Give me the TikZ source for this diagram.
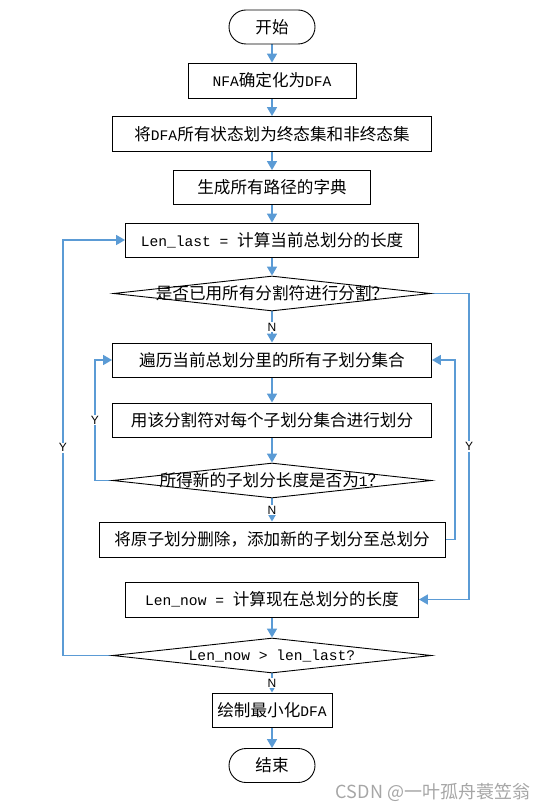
\documentclass[tikz,border=0pt]{standalone}
\usepackage{fontspec}
\usepackage{xcolor}
\usetikzlibrary{shapes,shapes.geometric}
\usetikzlibrary{arrows.meta,backgrounds}
\newfontfamily\cjk{Noto Sans CJK SC}
\newfontfamily\mono[Scale=0.88]{Liberation Mono}
\newfontfamily\yn{Liberation Sans}
\definecolor{flowblue}{RGB}{91,155,213}
\newcommand{\spill}[1]{\makebox[0pt]{#1}}
\pgfdeclarelayer{edgelayer}
\pgfdeclarelayer{nodelayer}
\pgfsetlayers{background,edgelayer,nodelayer,main}
\tikzstyle{proc}=[draw=black,line width=0.9pt,fill=white,shape=rectangle,inner sep=0pt,minimum height=34pt,font=\cjk\fontsize{16.6}{18}\selectfont]
\tikzstyle{term}=[proc,rounded corners=17pt]
\tikzstyle{cond}=[proc,shape=diamond,minimum height=35pt]
\tikzstyle{flow}=[draw=flowblue,line width=1.6pt,-{Triangle[width=10pt,length=9pt]}]
\tikzstyle{tag}=[fill=white,inner sep=1pt,font=\yn\fontsize{12}{12}\selectfont]
\tikzstyle{credit}=[inner sep=0pt,text=black!35,font=\cjk\fontsize{18}{18}\selectfont]

\begin{document}
\begin{tikzpicture}[x=1pt,y=-1pt]
	\useasboundingbox (0,0) rectangle (554,810);
	\begin{pgfonlayer}{nodelayer}
		\node [style=term,minimum width=86pt] (start) at (272,27) {开始};
		\node [style=proc,minimum width=168pt,minimum height=35pt] (nfa) at (272,80.5) {{\mono NFA}确定化为{\mono DFA}};
		\node [style=proc,minimum width=319pt,minimum height=35pt] (split) at (272,134) {将{\mono DFA}所有状态划为终态集和非终态集};
		\node [style=proc,minimum width=197pt] (dict) at (272,187.5) {生成所有路径的字典};
		\node [style=proc,minimum width=293pt] (last) at (272,240) {{\mono Len\_last = }计算当前总划分的长度};
		\node [style=cond,minimum width=317pt] (ask1) at (272,293.5) {\spill{是否已用所有分割符进行分割？}};
		\node [style=proc,minimum width=319pt] (loop) at (272,360) {遍历当前总划分里的所有子划分集合};
		\node [style=proc,minimum width=319pt] (cut) at (272,420) {用该分割符对每个子划分集合进行划分};
		\node [style=cond,minimum width=319pt] (ask2) at (272,480.5) {\spill{所得新的子划分长度是否为{\mono 1}？}};
		\node [style=proc,minimum width=346pt,minimum height=35pt] (swap) at (272,539.5) {将原子划分删除，添加新的子划分至总划分};
		\node [style=proc,minimum width=293pt,minimum height=35pt] (now) at (272,599.5) {{\mono Len\_now = }计算现在总划分的长度};
		\node [style=cond,minimum width=319pt] (ask3) at (272,655.5) {\spill{\mono Len\_now > len\_last?}};
		\node [style=proc,minimum width=120pt] (mini) at (272,710) {绘制最小化{\mono DFA}};
		\node [style=term,minimum width=86pt] (stop) at (272,765.5) {结束};
		\node [style=credit] (sign) at (433,792) {CSDN @一叶孤舟蓑笠翁};
		\coordinate (r1) at (469,293.5);
		\coordinate (l2) at (95,480.5);
		\coordinate (r2) at (455,539.5);
		\coordinate (l3) at (63,655.5);
	\end{pgfonlayer}
	\begin{pgfonlayer}{edgelayer}
		\draw [style=flow] (start) to (nfa);
		\draw [style=flow] (nfa) to (split);
		\draw [style=flow] (split) to (dict);
		\draw [style=flow] (dict) to (last);
		\draw [style=flow] (last) to (ask1);
		\draw [style=flow] (ask1) to node [style=tag] {N} (loop);
		\draw [style=flow] (loop) to (cut);
		\draw [style=flow] (cut) to (ask2);
		\draw [style=flow] (ask2) to node [style=tag] {N} (swap);
		\draw [style=flow] (now) to (ask3);
		\draw [style=flow] (ask3) to node [style=tag] {N} (mini);
		\draw [style=flow] (mini) to (stop);
		\draw [style=flow] (ask1.east) -- (r1) |- node [style=tag,pos=0.25] {Y} (now.east);
		\draw [style=flow] (ask2.west) -- (l2) |- node [style=tag,pos=0.25] {Y} (loop.west);
		\draw [style=flow] (swap.east) -- (r2) |- (loop.east);
		\draw [style=flow] (ask3.west) -- (l3) |- node [style=tag,pos=0.25] {Y} (last.west);
	\end{pgfonlayer}
\end{tikzpicture}
\end{document}
